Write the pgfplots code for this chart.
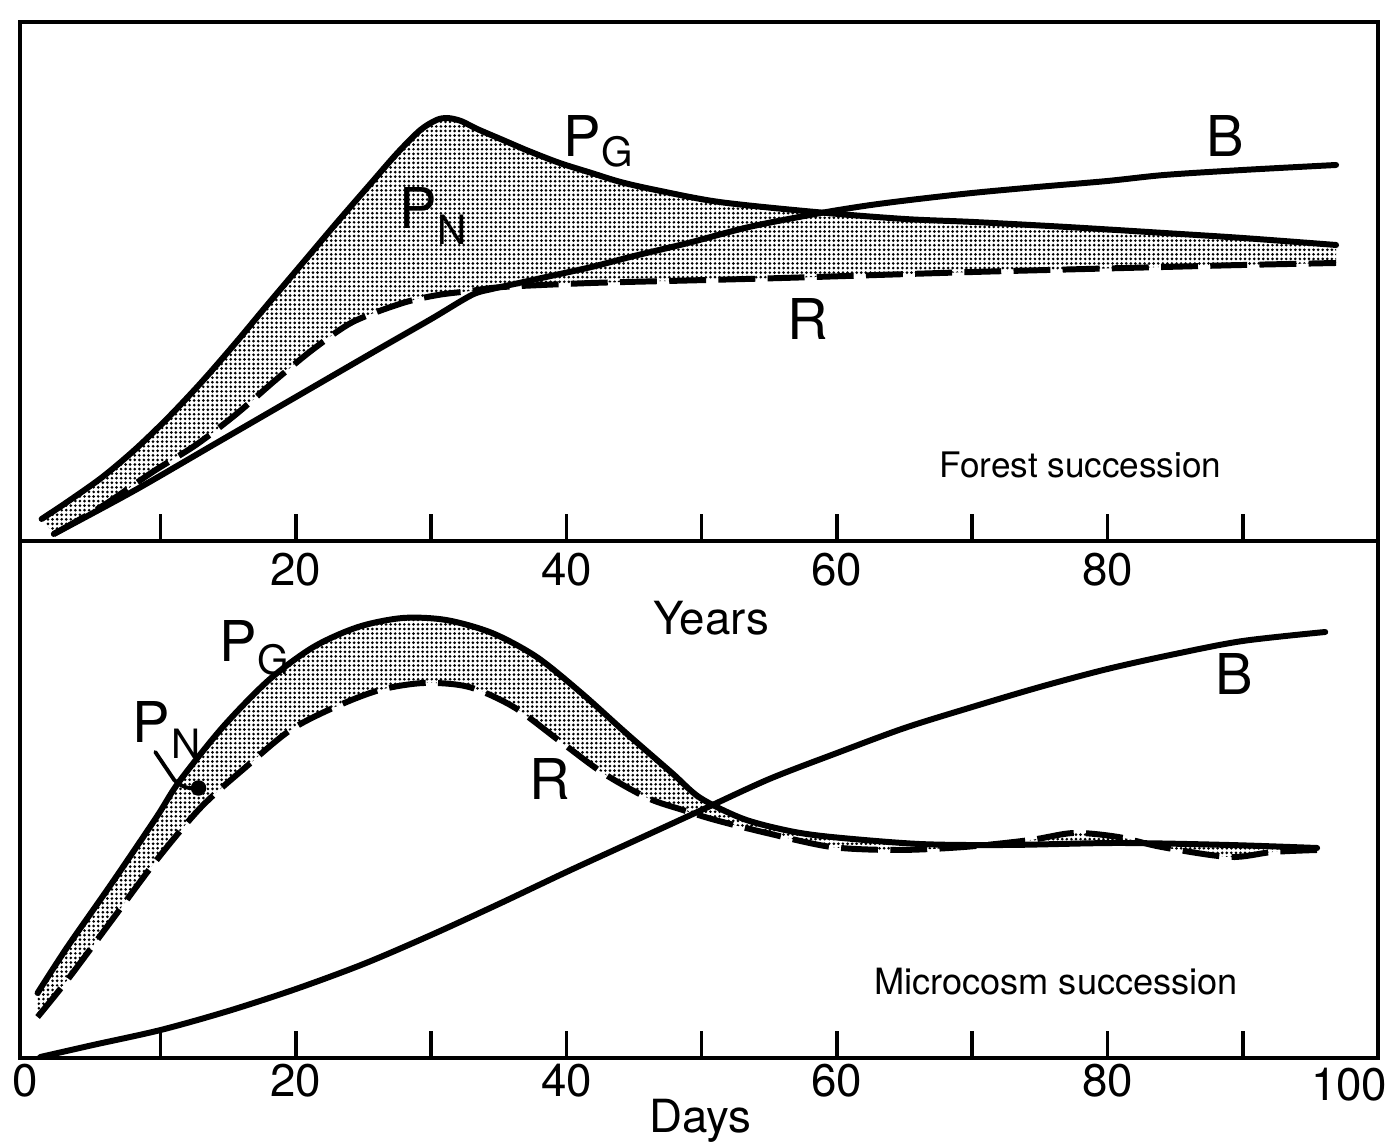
\documentclass[border=0pt]{standalone}
\usepackage{pgfplots}
\pgfplotsset{compat=1.18}
\usepgfplotslibrary{fillbetween}
\usetikzlibrary{patterns}
\usepackage{fontspec}
\setmainfont{TeX Gyre Heros}
\setsansfont{TeX Gyre Heros}

% fine stipple used for the net-production band
\pgfdeclarepatternformonly{stipple}{\pgfqpoint{-0.1pt}{-0.1pt}}{\pgfqpoint{1.4pt}{1.4pt}}{\pgfqpoint{1.3pt}{1.3pt}}{%
  \pgfpathcircle{\pgfqpoint{0.65pt}{0.65pt}}{0.42pt}\pgfusepath{fill}}

\newcommand{\Lfont}{\fontsize{16}{18}\selectfont}
\newcommand{\Sfont}{\fontsize{11.5}{12}\selectfont}
\newcommand{\Psub}[2]{{\Lfont P\kern0.2pt\raisebox{-#2}{\Sfont #1}}}

\tikzset{
  curve/.style={line width=1.7pt, line cap=round, line join=round, smooth},
  rcurve/.style={line width=1.7pt, line cap=butt, smooth, dash pattern=on 10.5pt off 3.5pt},
  lbl/.style={anchor=base west, inner sep=0pt},
}

\pgfplotsset{
  panel/.style={
    scale only axis, anchor=south west,
    width=13.58cm, xmin=-0.4, xmax=100,
    ytick=\empty, xtick pos=bottom, tick align=inside,
    major tick length=0.27cm,
    tick style={line width=1pt, black},
    axis line style={line width=1.3pt},
    clip=false, set layers,
    ticklabel style={font=\fontsize{13}{14}\selectfont},
    /pgf/number format/assume math mode=true,
  },
}

\begin{document}
\begin{tikzpicture}

% ---------------- Forest succession ----------------
\begin{axis}[panel, at={(0.20cm,6.02cm)}, height=5.19cm, ymin=0, ymax=519,
  xtick={10,20,...,90}, xticklabels={,20,,40,,60,,80,}]

% gross production
\addplot[curve, name path=pgA] coordinates {
  (1.2,22) (3.2,40) (5.7,64) (8.15,92) (10.6,124) (13.1,160) (15.6,199)
  (18,238) (20.5,278) (23,318) (25.5,357) (27.5,388) (29.2,411)
  (30.4,421) (31.2,423) (32.2,420) (33.4,412) (35.3,401) (37.2,390)
  (39.5,378) (41.85,368) (44,359) (46.6,351) (51.3,339) (58.4,329)
  (65,322) (70.1,319) (77,314) (84.2,308) (90,303) (96.9,296)};

% respiration
\addplot[rcurve, name path=rA] coordinates {
  (2.1,7) (5.7,35) (9.4,69) (12.6,96) (15.6,127) (18.5,161) (21.3,192)
  (24.2,219) (27.9,238) (30.5,246) (32.9,250) (35.3,254) (41.85,258)
  (49,260.5) (56,263) (63,266) (70.1,269) (77,271.5) (84.2,274)
  (90,276) (96.9,278)};

% biomass
\addplot[curve] coordinates {
  (2.1,7) (8,50) (14,97) (20,144) (26,191) (30,222) (33,246) (34.5,252)
  (36.5,258) (38.5,264) (41.85,274) (45,285) (49,298) (53.5,314)
  (58.4,327) (62,335) (65.4,341) (70,348) (74.8,354) (80,360)
  (84.2,366) (90,371) (96.9,376)};

\addplot[pattern=stipple, pattern color=black] fill between[of=pgA and rA];

\node[lbl] at (axis cs:39.7,384) {\Psub{G}{2.8pt}};
\node[lbl] at (axis cs:27.6,312) {\Psub{N}{4.5pt}};
\node[lbl] at (axis cs:87.3,384) {\Lfont B};
\node[lbl] at (axis cs:56.3,201) {\Lfont R};
\node[anchor=base, inner sep=0pt] at (axis cs:78,63)
  {\fontsize{10}{12}\selectfont Forest succession};
\node[anchor=base, inner sep=0pt] at (axis cs:50.7,-94)
  {\fontsize{13}{14}\selectfont Years};
\end{axis}

% ---------------- Microcosm succession ----------------
\begin{axis}[panel, at={(0.20cm,0.85cm)}, height=5.17cm, ymin=2, ymax=519,
  xtick={10,20,...,90}, xticklabels={,20,,40,,60,,80,},
  extra x ticks={0}, extra x tick labels={0},
  extra x tick style={major tick length=0pt},
  xticklabel style={yshift=0.06cm}]

% gross production
\addplot[curve, name path=pgB] coordinates {
  (0.9,67) (3.1,113) (6.4,177) (9.7,243) (11.35,278) (14.6,333) (18,380)
  (21.3,413) (24.6,433) (27.9,442) (31.1,440) (34.5,427) (37.8,403)
  (41.1,367) (44.4,327) (47.8,287) (49.9,262) (53.1,241) (56.5,229)
  (59.6,223) (66.1,216) (72.6,215) (80.8,217) (89,215) (95.5,212)};

% respiration
\addplot[rcurve, name path=rB] coordinates {
  (0.9,43) (3.1,80) (6.4,140) (9.7,200) (13,253) (16.3,293) (19.6,330)
  (22.9,353) (26.2,370) (29.5,377) (32.8,373) (36.1,353) (39.4,320)
  (42.7,287) (46,262) (48.6,250) (51,240) (54.8,227) (59.6,213)
  (64.5,210) (69.4,213) (74.3,220) (77.5,227) (80.8,223) (84,213)
  (89,203) (92.2,208) (95.5,210)};

% biomass
\addplot[curve] coordinates {
  (1.1,3) (5,15) (10,30) (15,49) (20,71) (25,96) (30,125) (35,156)
  (40,188) (45,219) (50,250) (55,281) (60,307) (65,332) (70,353)
  (75,373) (80,391) (85,406) (90,419) (96.1,428)};

\addplot[pattern=stipple, pattern color=black] fill between[of=pgB and rB];

% leader from the net-production label into the band
\draw[line width=1.1pt, line cap=round] (axis cs:9.6,308) -- (axis cs:11.0,280)
  .. controls (axis cs:11.6,272) and (axis cs:12.2,271) .. (axis cs:12.8,272);
\fill (axis cs:12.8,272) circle[radius=2.2pt];

% right-hand scale value, kept inside the frame edge
\node[anchor=north east, inner sep=0pt, xshift=0.1cm, yshift=-0.09cm]
  at (axis cs:100,2) {\fontsize{13}{14}\selectfont 100};

\node[lbl] at (axis cs:14.3,398) {\Psub{G}{3.6pt}};
\node[lbl] at (axis cs:7.9,317) {\Psub{N}{4.3pt}};
\node[lbl] at (axis cs:37.2,260) {\Lfont R};
\node[lbl] at (axis cs:87.9,365) {\Lfont B};
\node[anchor=base, inner sep=0pt] at (axis cs:76.2,65)
  {\fontsize{10.3}{12}\selectfont Microcosm succession};
\node[anchor=base, inner sep=0pt] at (axis cs:49.9,-73)
  {\fontsize{13}{14}\selectfont Days};
\end{axis}

% page frame
\pgfresetboundingbox
\path (0,0) rectangle (13.91,11.43);
\end{tikzpicture}
\end{document}
